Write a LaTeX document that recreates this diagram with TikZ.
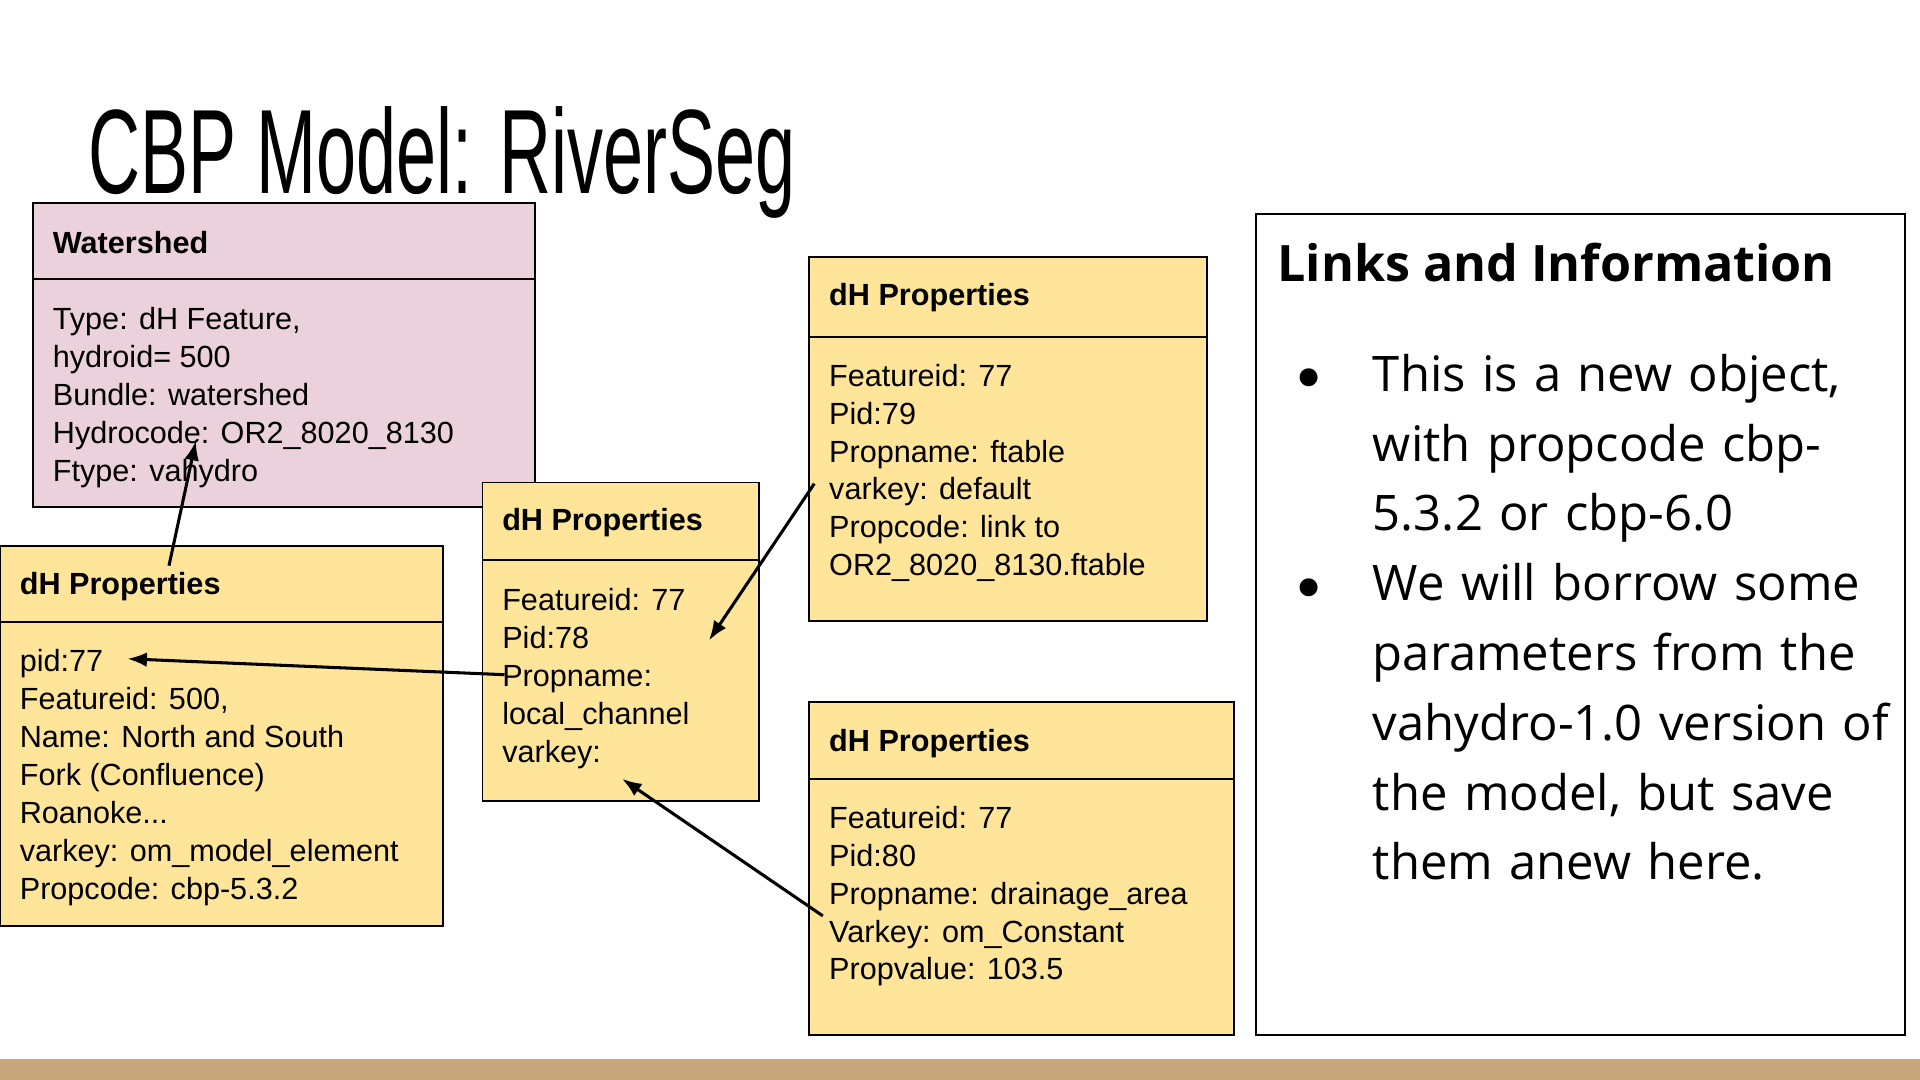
\documentclass[tikz,border=0pt]{standalone}
\usepackage{fontspec}
\setmainfont{Liberation Sans}
\newfontfamily\opensans{Open Sans}
\usetikzlibrary{arrows.meta}
\definecolor{pinkfill}{HTML}{EAD1DC}
\definecolor{yel}{HTML}{FFE599}
\definecolor{barc}{HTML}{C9A77C}
\newcommand\nohyph{\hyphenpenalty=10000 \exhyphenpenalty=10000 }
\begin{document}
\begin{tikzpicture}[x=1pt,y=-1pt,
  boxf/.style={draw=black,line width=1.5pt},
  hdr/.style={anchor=west,font=\fontsize{25}{31}\selectfont\bfseries,inner sep=0},
  body/.style={anchor=north west,align=left,font=\fontsize{25}{31}\selectfont,inner sep=0},
  ltxt/.style={anchor=north west,inner sep=0,text width=430pt,align=left,font=\opensans\fontsize{40}{57}\selectfont},
  arr/.style={line width=2.5pt,-{Latex[length=16pt,width=12pt]}}]
\useasboundingbox (0,0) rectangle (1568,882);
\fill[white] (0,0) rectangle (1568,882);
\fill[barc] (0,865) rectangle (1568,882);
\node[anchor=base west,inner sep=0,font=\fontsize{98}{100}\selectfont] (title) at (72,158) {\scalebox{0.6}[1]{CBP Model: RiverSeg}};
% Watershed
\draw[boxf,fill=pinkfill] (27,166) rectangle (437,414);
\draw[boxf] (27,228) -- (437,228);
\node[hdr] (wsh) at (43,198) {Watershed};
\node[body] (wsb) at (43,251) {Type: dH Feature,\\hydroid= 500\\Bundle: watershed\\Hydrocode: OR2\_8020\_8130\\Ftype: vahydro};
% left dH
\draw[boxf,fill=yel] (0,446) rectangle (362,756);
\draw[boxf] (0,508) -- (362,508);
\node[hdr] (lh) at (16,479) {dH Properties};
\node[body] (lb) at (16,530) {pid:77\\Featureid: 500,\\Name: North and South\\Fork (Confluence)\\Roanoke...\\varkey: om\_model\_element\\Propcode: cbp-5.3.2};
% middle
\draw[boxf,fill=yel] (394,394) rectangle (620,654);
\draw[boxf] (394,457) -- (620,457);
\node[hdr] (mh) at (410,427) {dH Properties};
\node[body] (mb) at (410,480) {Featureid: 77\\Pid:78\\Propname:\\local\_channel\\varkey:};
% top right
\draw[boxf,fill=yel] (661,210) rectangle (986,507);
\draw[boxf] (661,275) -- (986,275);
\node[hdr] (th) at (677,243) {dH Properties};
\node[body] (tb) at (677,297) {Featureid: 77\\Pid:79\\Propname: ftable\\varkey: default\\Propcode: link to\\OR2\_8020\_8130.ftable};
% bottom right
\draw[boxf,fill=yel] (661,573) rectangle (1008,845);
\draw[boxf] (661,636) -- (1008,636);
\node[hdr] (bh) at (677,607) {dH Properties};
\node[body] (bb) at (677,658) {Featureid: 77\\Pid:80\\Propname: drainage\_area\\Varkey: om\_Constant\\Propvalue: 103.5};
% links box
\draw[line width=1.5pt] (1026,175) rectangle (1556,845);
\node[anchor=base west,inner sep=0,font=\opensans\fontsize{41}{48}\selectfont\bfseries] (lt) at (1043,230) {Links and Information};
\node[ltxt] (l1) at (1121,289) {\nohyph This is a new object, with propcode cbp-5.3.2 or cbp-6.0};
\node[ltxt] (l2) at (1121,460) {\nohyph We will borrow some parameters from the vahydro-1.0 version of the model, but save them anew here.};
\node[font=\fontsize{34}{34}\selectfont] (d1) at (1069,310) {●};
\node[font=\fontsize{34}{34}\selectfont] (d2) at (1069,481) {●};
% arrows
\coordinate (a1s) at (138,462); \coordinate (a1e) at (160,360);
\coordinate (a2s) at (412,551); \coordinate (a2e) at (104,538);
\coordinate (a3s) at (665,395); \coordinate (a3e) at (579,523);
\coordinate (a4s) at (672,748); \coordinate (a4e) at (508,636);
\draw[arr] (a1s) -- (a1e);
\draw[arr] (a2s) -- (a2e);
\draw[arr] (a3s) -- (a3e);
\draw[arr] (a4s) -- (a4e);
\end{tikzpicture}
\end{document}
